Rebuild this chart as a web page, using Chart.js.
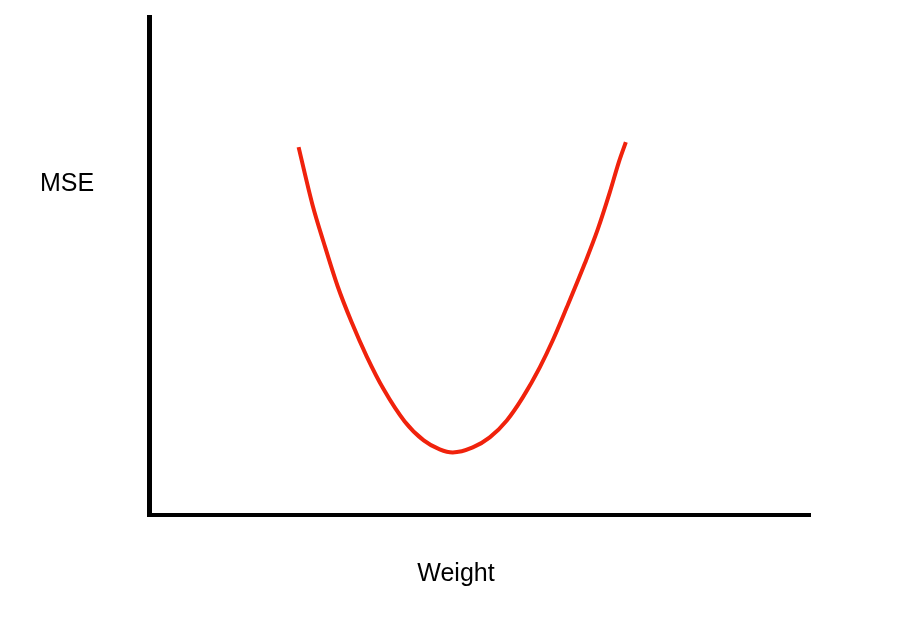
<!DOCTYPE html>
<html lang="en">
<head>
    <meta charset="UTF-8">
    <title>MSE vs Weight</title>
    <script src="https://cdn.jsdelivr.net/npm/chart.js"></script>
    <style>
        html, body { margin: 0; padding: 0; background: #ffffff; }
        #wrap { width: 900px; height: 622px; }
    </style>
</head>
<body>
    <div id="wrap"><canvas id="mseChart" width="900" height="622"></canvas></div>

    <script>
        // curve (x = weight, y = MSE, both on a 0..100 scale)
        const weights = [22.63, 24.75, 26.42, 28.54, 30.66, 32.93, 35.50, 38.68, 41.56, 43.98, 45.95,
                         48.98, 51.55, 54.13, 56.55, 59.12, 61.09, 63.21, 65.94, 67.90, 69.72, 71.08, 72.14];
        const mse = [73.87, 62.21, 54.77, 45.93, 38.69, 31.86, 25.23, 18.79, 14.97, 13.17, 12.56,
                     13.57, 15.58, 18.99, 23.62, 29.65, 35.08, 41.71, 50.55, 57.39, 64.82, 70.85, 74.87];
        const xLabel = 'Weight';
        const yLabel = 'MSE';

        const points = weights.map((w, i) => ({ x: w, y: mse[i] }));

        // axis captions sit off-centre and horizontal, so draw them by hand
        const captions = {
            id: 'captions',
            afterDraw(chart) {
                const { ctx, chartArea } = chart;
                ctx.save();
                ctx.fillStyle = '#000';
                ctx.font = '25px "Liberation Sans", Arial, sans-serif';
                ctx.textAlign = 'center';
                ctx.textBaseline = 'middle';
                ctx.fillText(yLabel, chartArea.left - 82, chartArea.top + 167);
                ctx.fillText(xLabel, chartArea.left + 307, chartArea.bottom + 59);
                ctx.restore();
            }
        };

        const ctx = document.getElementById('mseChart').getContext('2d');
        new Chart(ctx, {
            type: 'line',
            data: {
                datasets: [{
                    data: points,
                    borderColor: '#f0220c',
                    borderWidth: 4,
                    pointRadius: 0,
                    cubicInterpolationMode: 'monotone',
                    fill: false,
                }]
            },
            options: {
                responsive: false,
                animation: false,
                layout: { padding: { left: 149, top: 17, right: 90, bottom: 107 } },
                plugins: { legend: { display: false }, tooltip: { enabled: false } },
                scales: {
                    x: {
                        type: 'linear', min: 0, max: 100,
                        grid: { display: false, drawTicks: false },
                        ticks: { display: false },
                        border: { display: true, color: '#000', width: 4 },
                    },
                    y: {
                        type: 'linear', min: 0, max: 100,
                        grid: { display: false, drawTicks: false },
                        ticks: { display: false },
                        border: { display: true, color: '#000', width: 5 },
                    }
                }
            },
            plugins: [captions]
        });
    </script>
</body>
</html>
